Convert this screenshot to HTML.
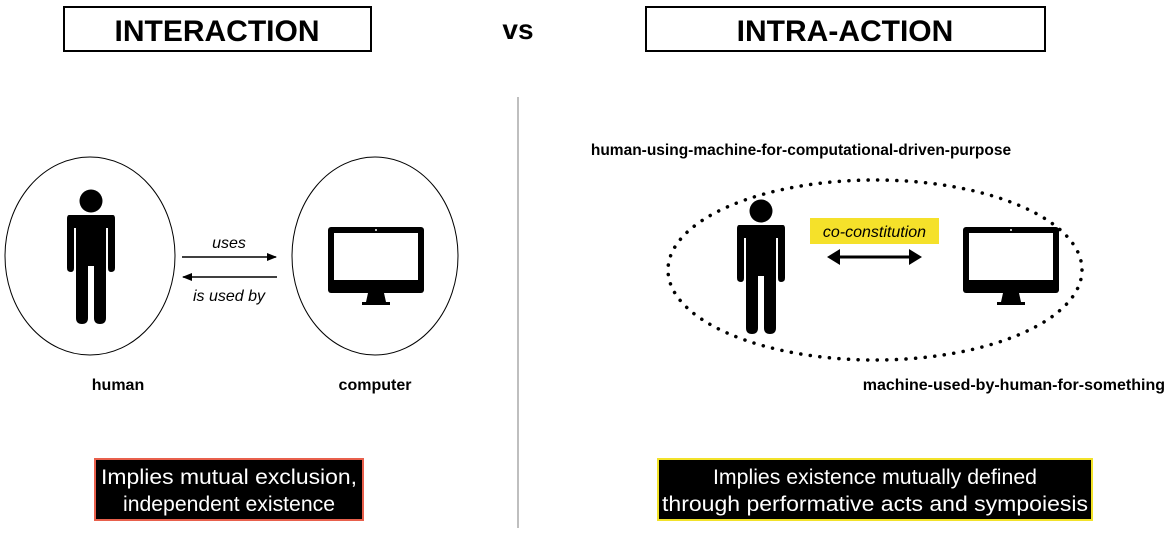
<!DOCTYPE html>
<html><head><meta charset="utf-8"><style>
html,body{margin:0;padding:0;background:#fff;}
svg{display:block;font-family:"Liberation Sans",Arial,sans-serif;}
</style></head><body>
<svg width="1170" height="536" viewBox="0 0 1170 536" xmlns="http://www.w3.org/2000/svg">
<defs>
<marker id="ah" markerWidth="10" markerHeight="8" refX="9" refY="4" orient="auto" markerUnits="userSpaceOnUse"><path d="M0,0 L10,4 L0,8 Z" fill="#000"/></marker>
<g id="person">
<circle cx="0" cy="-55" r="11.5"/>
<path d="M-22,-41 H22 Q24,-41 24,-37 V12 Q24,16 20,16 Q17,16 17,12 V-28 H15 V62 Q15,68 9,68 Q3,68 3,62 V10 H-3 V62 Q-3,68 -9,68 Q-15,68 -15,62 V-28 H-17 V12 Q-17,16 -20,16 Q-24,16 -24,12 V-37 Q-24,-41 -22,-41 Z"/>
</g>
<g id="monitor">
<rect x="0" y="0" width="96" height="66" rx="3" fill="#000"/>
<rect x="6" y="6" width="84" height="47" fill="#fff"/>
<circle cx="48" cy="3" r="1" fill="#fff"/>
<path d="M40,66 L56,66 L58,75 L62,75 L62,78 L34,78 L34,75 L38,75 Z" fill="#000"/>
</g>
</defs>

<rect x="64" y="7" width="307" height="44" fill="#fff" stroke="#000" stroke-width="2"/>
<text x="217" y="41" font-size="30" font-weight="bold" text-anchor="middle">INTERACTION</text>
<text x="518" y="39" font-size="28" font-weight="bold" text-anchor="middle">vs</text>
<rect x="646" y="7" width="399" height="44" fill="#fff" stroke="#000" stroke-width="2"/>
<text x="845" y="41" font-size="30" font-weight="bold" text-anchor="middle">INTRA-ACTION</text>

<line x1="518" y1="97" x2="518" y2="528" stroke="#aaa" stroke-width="1.5"/>

<ellipse cx="90" cy="256" rx="85" ry="99" fill="none" stroke="#000" stroke-width="1"/>
<ellipse cx="375" cy="256" rx="83" ry="99" fill="none" stroke="#000" stroke-width="1"/>
<use href="#person" x="91" y="256"/>
<use href="#monitor" x="328" y="227"/>
<text x="229" y="248" font-size="16" font-style="italic" text-anchor="middle">uses</text>
<line x1="182" y1="257" x2="276" y2="257" stroke="#000" stroke-width="1.5" marker-end="url(#ah)"/>
<line x1="277" y1="277" x2="183" y2="277" stroke="#000" stroke-width="1.5" marker-end="url(#ah)"/>
<text x="229" y="301" font-size="16" font-style="italic" text-anchor="middle">is used by</text>
<text x="118" y="390" font-size="16" font-weight="bold" text-anchor="middle">human</text>
<text x="375" y="390" font-size="16" font-weight="bold" text-anchor="middle">computer</text>

<text x="801" y="155" font-size="15.5" font-weight="bold" text-anchor="middle">human-using-machine-for-computational-driven-purpose</text>
<ellipse cx="875" cy="270" rx="207" ry="90" fill="none" stroke="#000" stroke-width="3.5" stroke-dasharray="0.1 9.5" stroke-linecap="round"/>
<use href="#person" x="761" y="266"/>
<use href="#monitor" x="963" y="227"/>
<rect x="810" y="218" width="129" height="26" fill="#f5e12a"/>
<text x="874.5" y="237" font-size="16" font-style="italic" text-anchor="middle">co-constitution</text>
<line x1="836" y1="257" x2="913" y2="257" stroke="#000" stroke-width="3"/>
<path d="M827,257 L840,249 L840,265 Z M922,257 L909,249 L909,265 Z" fill="#000"/>
<text x="1165" y="390" font-size="16" font-weight="bold" text-anchor="end">machine-used-by-human-for-something</text>

<rect x="95" y="459" width="268" height="61" fill="#000" stroke="#e8604c" stroke-width="2"/>
<text x="229" y="484" font-size="21" fill="#fff" text-anchor="middle" textLength="256" lengthAdjust="spacingAndGlyphs">Implies mutual exclusion,</text>
<text x="229" y="511" font-size="21" fill="#fff" text-anchor="middle" textLength="212" lengthAdjust="spacingAndGlyphs">independent existence</text>
<rect x="658" y="459" width="434" height="61" fill="#000" stroke="#f2e22a" stroke-width="2"/>
<text x="875" y="484" font-size="21" fill="#fff" text-anchor="middle" textLength="324" lengthAdjust="spacingAndGlyphs">Implies existence mutually defined</text>
<text x="875" y="511" font-size="21" fill="#fff" text-anchor="middle" textLength="426" lengthAdjust="spacingAndGlyphs">through performative acts and sympoiesis</text>
</svg>
</body></html>
